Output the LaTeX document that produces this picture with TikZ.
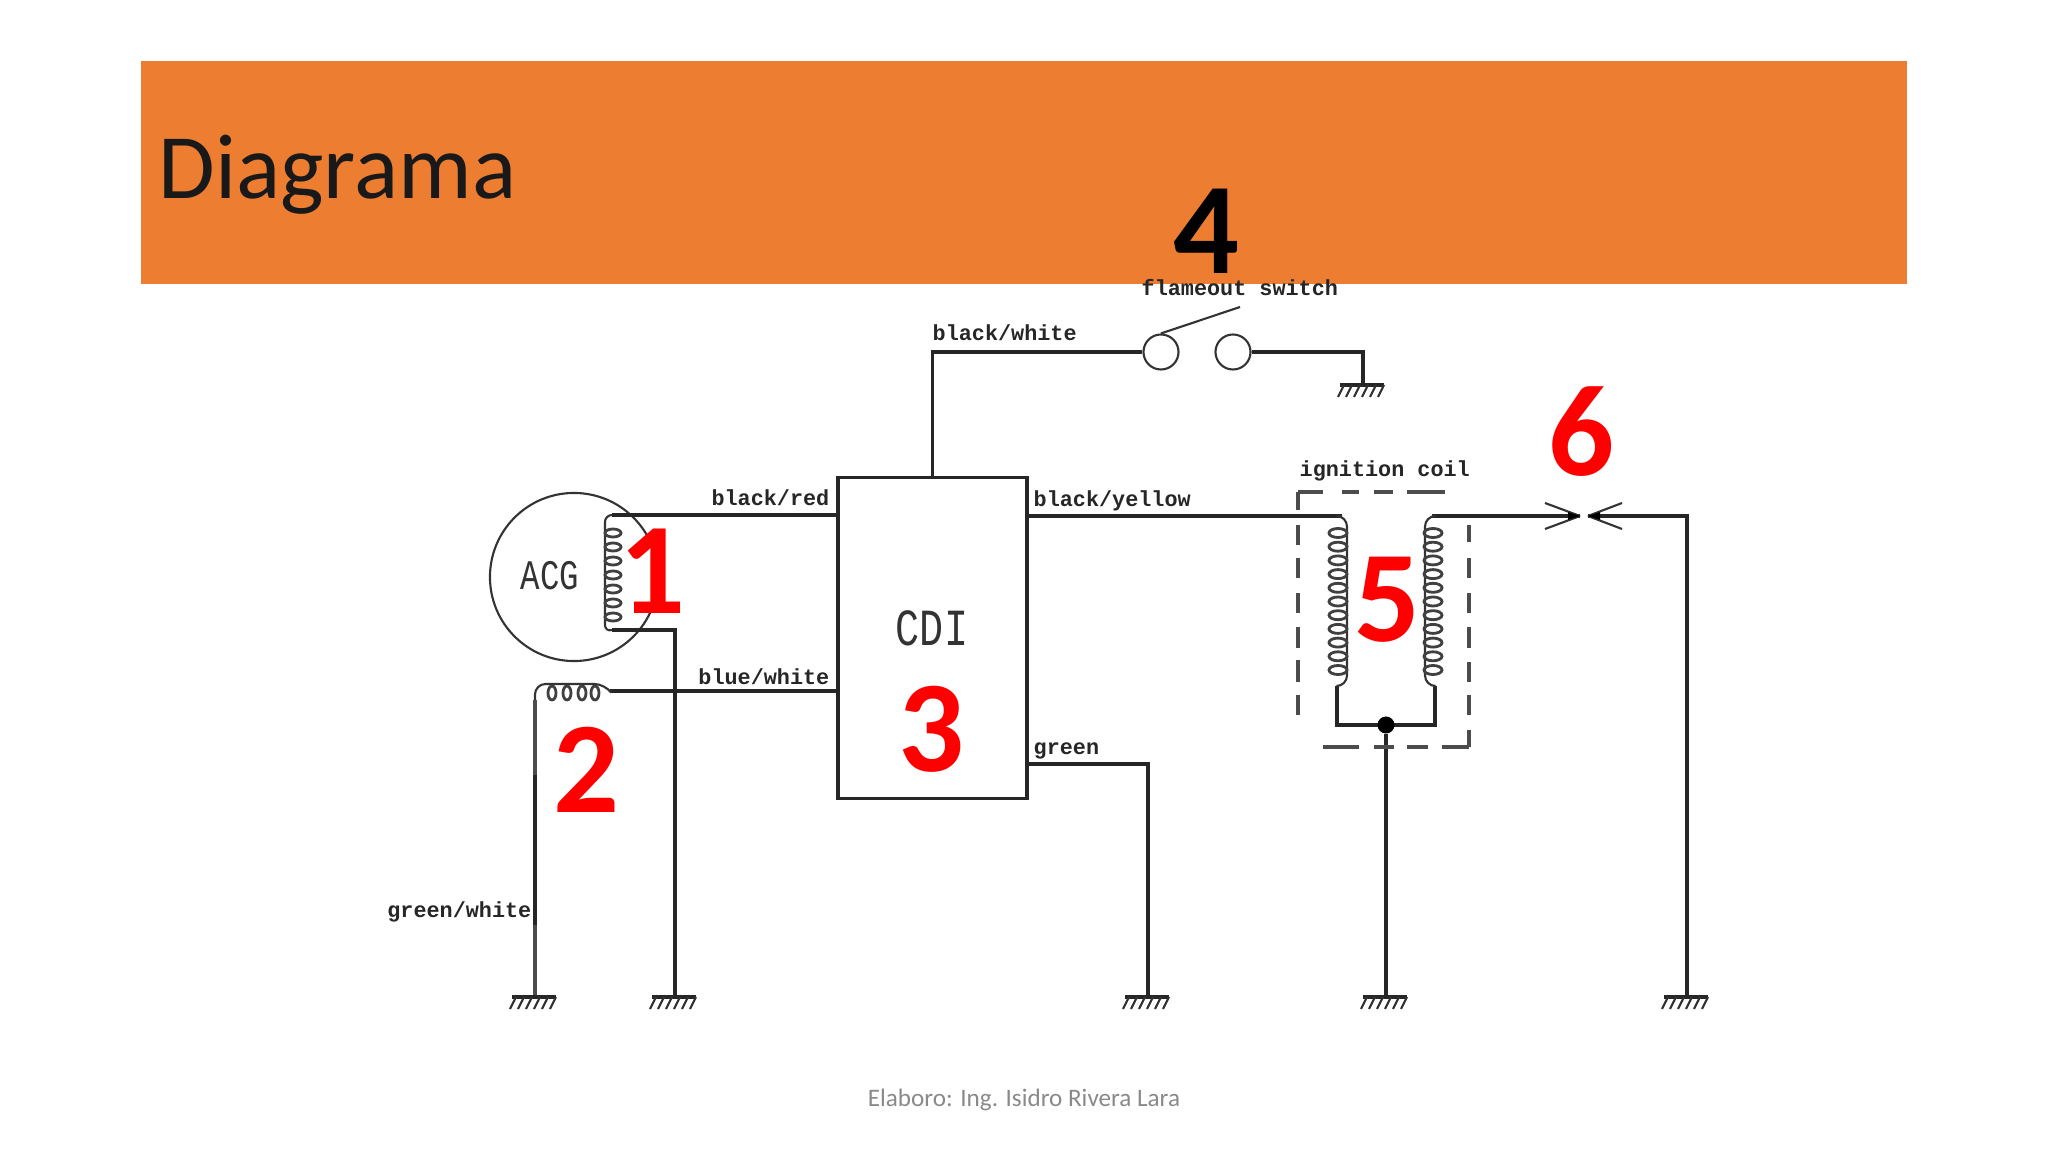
\documentclass[tikz,border=0pt]{standalone}
\usepackage{fontspec}
\setmainfont{Carlito}
\newfontfamily\wirefont{Liberation Mono}
\definecolor{banner}{HTML}{ED7D31}
\definecolor{footgray}{HTML}{898989}
\tikzset{
  wire/.style={line width=0.9pt, black!85},
  thinline/.style={line width=0.6pt, black!80},
  coilloop/.style={line width=0.8pt, black!75},
  dashline/.style={line width=1.1pt, black!70},
  wirelabel/.style={inner sep=0pt, text height=5pt, text depth=1pt, text=black!85, font=\wirefont\bfseries\fontsize{6.2}{7}\selectfont},
  bignum/.style={inner sep=0pt, text depth=0pt, text=red, font=\bfseries\fontsize{37}{37}\selectfont},
}
\begin{document}
\begin{tikzpicture}[x=0.01cm, y=-0.01cm]
    \useasboundingbox (0, 0) rectangle (2048, 1152);
    \fill[banner] (141, 61) rectangle (1907, 284);
    \node[anchor=base west, inner sep=0pt, font=\fontsize{26.2}{28}\selectfont, text=black!90](title) at (158, 199) {Diagrama};
    \node[inner sep=0pt, text=footgray, font=\fontsize{7.15}{8}\selectfont](foot) at (1024, 1100) {Elaboro: Ing. Isidro Rivera Lara};
    % main boxes
    \node[draw, wire, minimum width=1.89cm, minimum height=3.2cm, inner sep=0pt](cdi) at (932.5, 638) {};
    \node[draw, thinline, circle, minimum size=1.68cm, inner sep=0pt](acg) at (574, 577) {};
    \node[inner sep=0pt, yscale=1.3, transform shape, text=black!80, font=\wirefont\fontsize{9.2}{10}\selectfont](acgtext) at (550, 576) {ACG};
    \node[inner sep=0pt, yscale=1.3, transform shape, text=black!80, font=\wirefont\fontsize{11.4}{12}\selectfont](cditext) at (932, 628) {CDI};
    % points
    \coordinate(acgA) at (612, 515);
    \coordinate(acgB) at (612, 630);
    \coordinate(acgC) at (675, 630);
    \coordinate(pickA) at (610, 691);
    \coordinate(pickB) at (535, 700);
    \coordinate(gndA) at (535, 997);
    \coordinate(gndB) at (675, 997);
    \coordinate(gndC) at (1148, 997);
    \coordinate(gndD) at (1386, 997);
    \coordinate(gndE) at (1687, 997);
    \coordinate(gndF) at (1363, 385);
    \coordinate(coilA) at (1342, 516);
    \coordinate(coilB) at (1432, 516);
    \coordinate(coilC) at (1337, 725);
    \coordinate(coilD) at (1435, 725);
    \coordinate(coilE) at (1337, 686);
    \coordinate(coilF) at (1435, 686);
    \coordinate(tipA) at (1580, 516);
    \coordinate(tipB) at (1588, 516);
    \coordinate(sparkend) at (1687, 516);
    \coordinate(greenend) at (1148, 764);
    % switch
    \node[draw, thinline, circle, minimum size=0.35cm, inner sep=0pt](swA) at (1161, 352) {};
    \node[draw, thinline, circle, minimum size=0.35cm, inner sep=0pt](swB) at (1233, 352) {};
    \coordinate(bladeend) at (1240, 307);
    \coordinate(corner) at (932.5, 352);
    \coordinate(swend) at (1363, 352);
    \draw[wire] (cdi.north)--(corner)--(swA.west);
    \draw[wire] (swB.east)--(swend)--(gndF);
    \draw[thinline] (swA.north)--(bladeend);
    % wires
    \draw[wire] (acgA)--(acgA -| cdi.west);
    \draw[wire] (acgB)--(acgC)--(gndB);
    \draw[wire] (pickA)--(pickA -| cdi.west);
    \draw[wire] (pickB)--(gndA);
    \draw[dashline] (535, 700)--(535, 775);
    \draw[dashline] (535, 925)--(gndA);
    \draw[wire] (coilA -| cdi.east)--(coilA);
    \draw[wire] (coilB)--(tipA);
    \draw[wire] (tipB)--(sparkend)--(gndE);
    \draw[wire] (greenend -| cdi.east)--(greenend)--(gndC);
    \draw[wire] (coilE)--(coilC)--(coilD)--(coilF);
    \node[fill=black, circle, minimum size=0.17cm, inner sep=0pt](dot) at (1386, 725) {};
    \draw[wire] (dot)--(gndD);
    \draw[thinline] (tipA)--++(-35, -13) (tipA)--++(-35, 13);
    \draw[thinline] (tipB)--++(34, -13) (tipB)--++(34, 13);
    \fill (tipA) ++(-12, -4) -- (tipA) -- ++(-12, 4) -- cycle;
    \fill (tipB) ++(12, -4) -- (tipB) -- ++(12, 4) -- cycle;
    % dashed coil case
    \foreach \a/\b in {1298/1323, 1342/1359, 1374/1393, 1407/1445}
        \draw[dashline] (\a, 492)--(\b, 492);
    \foreach \a/\b in {1323/1359, 1374/1394, 1407/1428, 1442/1469}
        \draw[dashline] (\a, 747)--(\b, 747);
    \foreach \a/\b in {492/510, 525/545, 558/578, 593/613, 627/648, 660/682, 695/715}
        \draw[dashline] (1298, \a)--(1298, \b);
    \foreach \a/\b in {525/542, 558/578, 593/613, 627/648, 662/682, 695/715, 730/747}
        \draw[dashline] (1469, \a)--(1469, \b);
    % coils
    \draw[thinline, rounded corners=2pt] (acgA)--(605, 515)--(605, 632)--(acgB);
    \foreach \y in {0,...,6}
        \draw[coilloop] (613, 533+14*\y) ellipse (8 and 4);
    \draw[thinline, rounded corners=3pt] (pickB)--(535, 684)--(605, 684)--(pickA);
    \foreach \x in {552, 567, 582, 595}
        \draw[coilloop] (\x, 693) ellipse (4 and 7);
    \draw[thinline, rounded corners=3pt] (coilA)--(1347, 516)--(1347, 686)--(coilE);
    \draw[thinline, rounded corners=3pt] (coilB)--(1425, 516)--(1425, 686)--(coilF);
    \foreach \y in {0,...,10} {
        \draw[coilloop] (1338, 533+13.7*\y) ellipse (9 and 4.5);
        \draw[coilloop] (1433, 533+13.7*\y) ellipse (9 and 4.5);
    }
    % ground marks
    \foreach \g in {gndA, gndB, gndC, gndD, gndE, gndF} {
        \draw[wire] (\g) ++(-23, 0)--++(44, 0);
        \foreach \i in {0,...,5}
            \draw[thinline] (\g) ++({-19+8*\i}, 0)--++(-6, 12);
    }
    % labels
    \node[wirelabel, anchor=east](lblbr) at (830, 498) {black/red};
    \node[wirelabel, anchor=east](lblbw) at (830, 677) {blue/white};
    \node[wirelabel, anchor=east](lblgw) at (532, 910) {green/white};
    \node[wirelabel, anchor=west](lblbk) at (932, 333) {black/white};
    \node[wirelabel, anchor=west](lblby) at (1033, 499) {black/yellow};
    \node[wirelabel, anchor=west](lblg) at (1033, 747) {green};
    \node[wirelabel, anchor=west](lblfs) at (1141, 288) {flameout switch};
    \node[wirelabel, anchor=west](lblic) at (1299, 469) {ignition coil};
    % numbers
    \node[bignum](numA) at (652, 571) {1};
    \node[bignum](numB) at (586, 770) {2};
    \node[bignum](numC) at (931, 729) {3};
    \node[bignum, text=black](numD) at (1206, 231) {4};
    \node[bignum](numE) at (1387, 599) {5};
    \node[bignum](numF) at (1581, 431) {6};
\end{tikzpicture}
\end{document}
